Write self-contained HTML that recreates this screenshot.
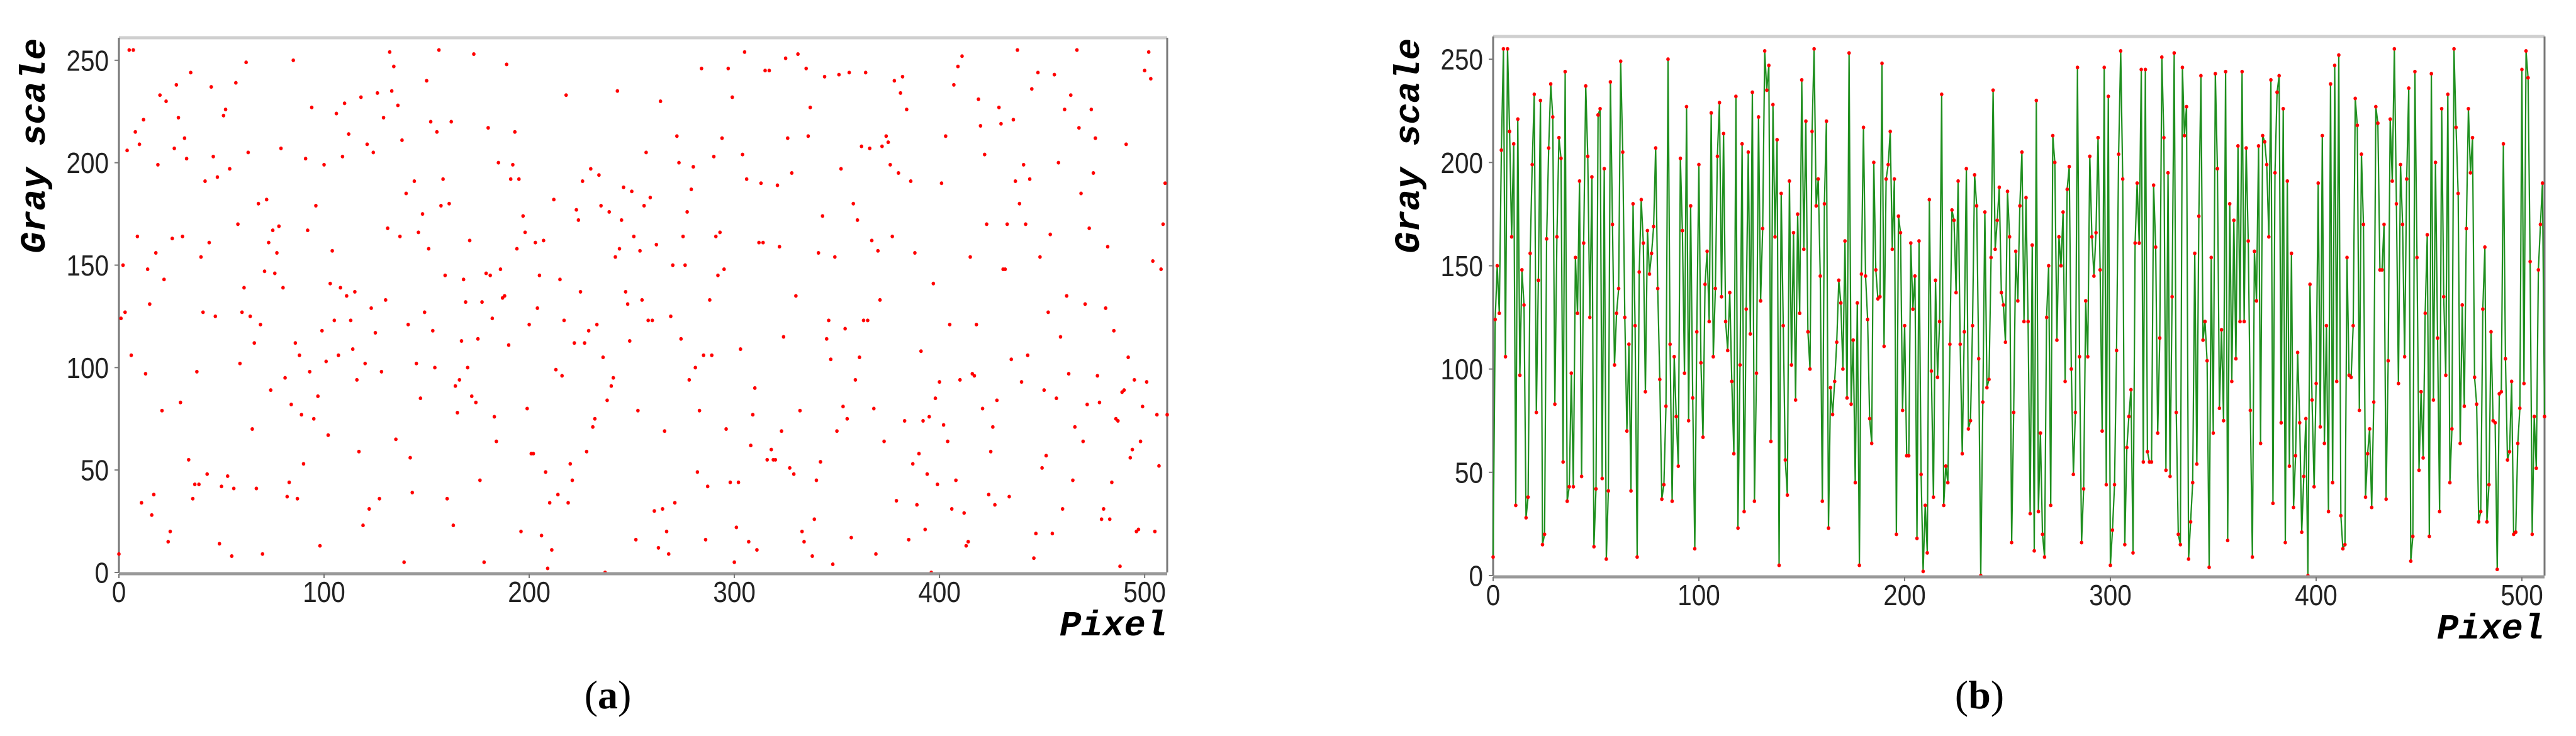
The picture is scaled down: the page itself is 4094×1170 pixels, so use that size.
<!DOCTYPE html>
<html><head><meta charset="utf-8">
<style>
html,body{margin:0;padding:0;background:#fff;}
svg{display:block;}
</style></head>
<body>
<svg id="fig" width="4094" height="1170" xmlns="http://www.w3.org/2000/svg"></svg>
<script>
const pixelValues = [9,124,150,127,206,255,106,255,215,164,209,34,221,97,148,131,28,38,156,199,233,79,143,230,15,20,163,207,238,222,83,164,212,202,55,244,36,43,98,43,154,127,191,48,161,237,203,125,193,14,42,223,226,47,197,8,41,239,170,102,127,139,249,205,125,70,112,41,180,121,9,147,182,161,89,167,146,156,169,207,139,95,37,44,82,250,112,36,106,77,53,202,167,98,227,75,179,86,13,118,199,103,67,141,157,123,224,106,139,203,229,135,214,123,109,137,94,59,232,23,102,209,31,129,205,117,234,36,98,
222,133,168,254,235,247,65,228,164,211,5,185,121,56,39,191,102,166,85,175,127,240,158,220,118,100,215,255,179,192,145,36,180,220,23,91,78,94,113,143,132,100,162,86,253,83,114,45,132,5,146,217,145,124,76,64,200,148,134,135,248,111,192,199,215,158,192,20,174,166,80,121,58,58,161,129,145,18,162,49,2,34,11,182,99,38,143,96,123,233,34,53,45,112,177,172,137,191,112,59,118,197,71,75,121,194,179,105,0,84,176,91,95,154,235,158,172,188,137,131,113,186,164,16,79,157,133,
179,205,123,183,123,30,160,12,230,31,69,20,9,125,150,34,213,200,114,164,150,176,94,187,198,100,49,79,246,106,16,42,133,106,203,164,145,166,212,148,70,246,44,232,5,22,44,109,204,254,192,15,62,77,90,11,161,190,161,245,55,245,60,55,55,189,159,69,115,251,212,51,195,48,135,253,79,20,15,246,213,227,8,26,45,156,54,174,242,114,123,104,4,154,69,243,197,81,119,75,244,17,180,94,172,105,208,123,244,123,207,162,80,9,157,133,208,64,213,210,199,164,240,35,195,234,242,74,
226,16,191,53,156,33,58,108,74,21,48,76,0,141,85,43,93,190,72,213,64,121,31,238,45,247,94,252,29,13,15,154,97,96,121,231,218,80,204,170,38,59,71,33,84,227,219,148,148,170,37,104,221,191,255,180,93,199,170,106,192,236,7,19,244,154,51,89,57,127,165,19,243,85,200,115,31,226,135,97,233,45,71,255,217,185,64,131,82,168,226,195,212,96,83,26,31,129,159,26,44,118,75,74,3,88,89,209,105,56,60,94,20,21,64,81,245,93,254,241,152,20,77,52,148,170,190,77];
const xTicks = [0,100,200,300,400,500];
const yTicks = [0,50,100,150,200,250];
const xTickLabels = ["0","100","200","300","400","500"];
const yTickLabels = ["0","50","100","150","200","250"];

const NS = "http://www.w3.org/2000/svg";
const svg = document.getElementById('fig');
function mk(tag, attrs, parent){
  const e = document.createElementNS(NS, tag);
  for (const k in attrs) e.setAttribute(k, attrs[k]);
  (parent||svg).appendChild(e);
  return e;
}
const X_MAX = 511, Y_MAX = 261;

function drawPanel(p){
  const g = mk('g', {});
  
  
  const xs = v => p.left + (v / X_MAX) * (p.right - p.left);
  const ys = v => p.bottom - (v / Y_MAX) * (p.bottom - p.top);
  const top = mk('line', {x1:p.left, y1:p.top, x2:p.right, y2:p.top, stroke:'#cfcfcf', 'stroke-width':5}, g);
   
  const lsp = mk('line', {x1:p.left, y1:p.top, x2:p.left, y2:p.bottom, stroke:'#777', 'stroke-width':3}, g);
   
  const rsp = mk('line', {x1:p.right, y1:p.top, x2:p.right, y2:p.bottom, stroke:'#777', 'stroke-width':3}, g);
   
  if (p.line){
    const pts = pixelValues.map((v,i)=> xs(i).toFixed(1)+','+ys(v).toFixed(1)).join(' ');
    const pl = mk('polyline', {points:pts, fill:'none', stroke:'#1f8f1f', 'stroke-width':2.2, 'stroke-linejoin':'round'}, g);
    
    
  }
  pixelValues.forEach((v,i)=>{
    const d = mk('ellipse', {cx:xs(i), cy:ys(v), rx:2.8, ry:3, fill:'#ff0000'}, g);
    
    
  });
  const bsp = mk('line', {x1:p.left, y1:p.bottom+2, x2:p.right, y2:p.bottom+2, stroke:'#999', 'stroke-width':5}, g);
   
  xTicks.forEach((t,i)=>{
    const tk = mk('line', {x1:xs(t), y1:p.bottom+2, x2:xs(t), y2:p.bottom+9, stroke:'#777', 'stroke-width':2}, g);
     
    const tx = mk('text', {x:0, y:0, 'text-anchor':'middle', 'font-family':'"Liberation Sans", sans-serif', 'font-size':46, fill:'#222', transform:`translate(${xs(t)},${p.bottom+47}) scale(0.88,1)`}, g);
    tx.textContent = xTickLabels[i];
     
  });
  yTicks.forEach((t,i)=>{
    const tk = mk('line', {x1:p.left-7, y1:ys(t), x2:p.left, y2:ys(t), stroke:'#777', 'stroke-width':2}, g);
     
    const tx = mk('text', {x:0, y:0, 'text-anchor':'end', 'font-family':'"Liberation Sans", sans-serif', 'font-size':46, fill:'#222', transform:`translate(${p.left-16},${ys(t)+16.5}) scale(0.88,1)`}, g);
    tx.textContent = yTickLabels[i];
     
  });
  const xl = mk('text', {x:p.right, y:p.bottom+100, 'text-anchor':'end', 'font-family':'"Liberation Mono", monospace', 'font-weight':'bold', 'font-style':'italic', 'font-size':57, fill:'#000'}, g);
  xl.textContent = 'Pixel';
   
  const yx = p.left - 118, yy = 232;
  const yl = mk('text', {x:0, y:0, 'text-anchor':'middle', 'font-family':'"Liberation Mono", monospace', 'font-weight':'bold', 'font-style':'italic', 'font-size':57, fill:'#000', transform:`translate(${yx},${yy}) rotate(-90)`}, g);
  yl.textContent = 'Gray scale';
   
  const cap = mk('text', {x:p.capX, y:1126, 'text-anchor':'middle', 'font-family':'"Liberation Serif", serif', 'font-size':64, fill:'#000'}, g);
  cap.innerHTML = '(<tspan font-weight="bold">'+p.cap+'</tspan>)';
   
}
drawPanel({name:'scatter-panel-a', left:189, right:1855, top:60, bottom:910, line:false, capX:966, cap:'a'});
drawPanel({name:'line-panel-b', left:2373, right:4044, top:58, bottom:915, line:true, capX:3146, cap:'b'});
</script>
</body></html>
